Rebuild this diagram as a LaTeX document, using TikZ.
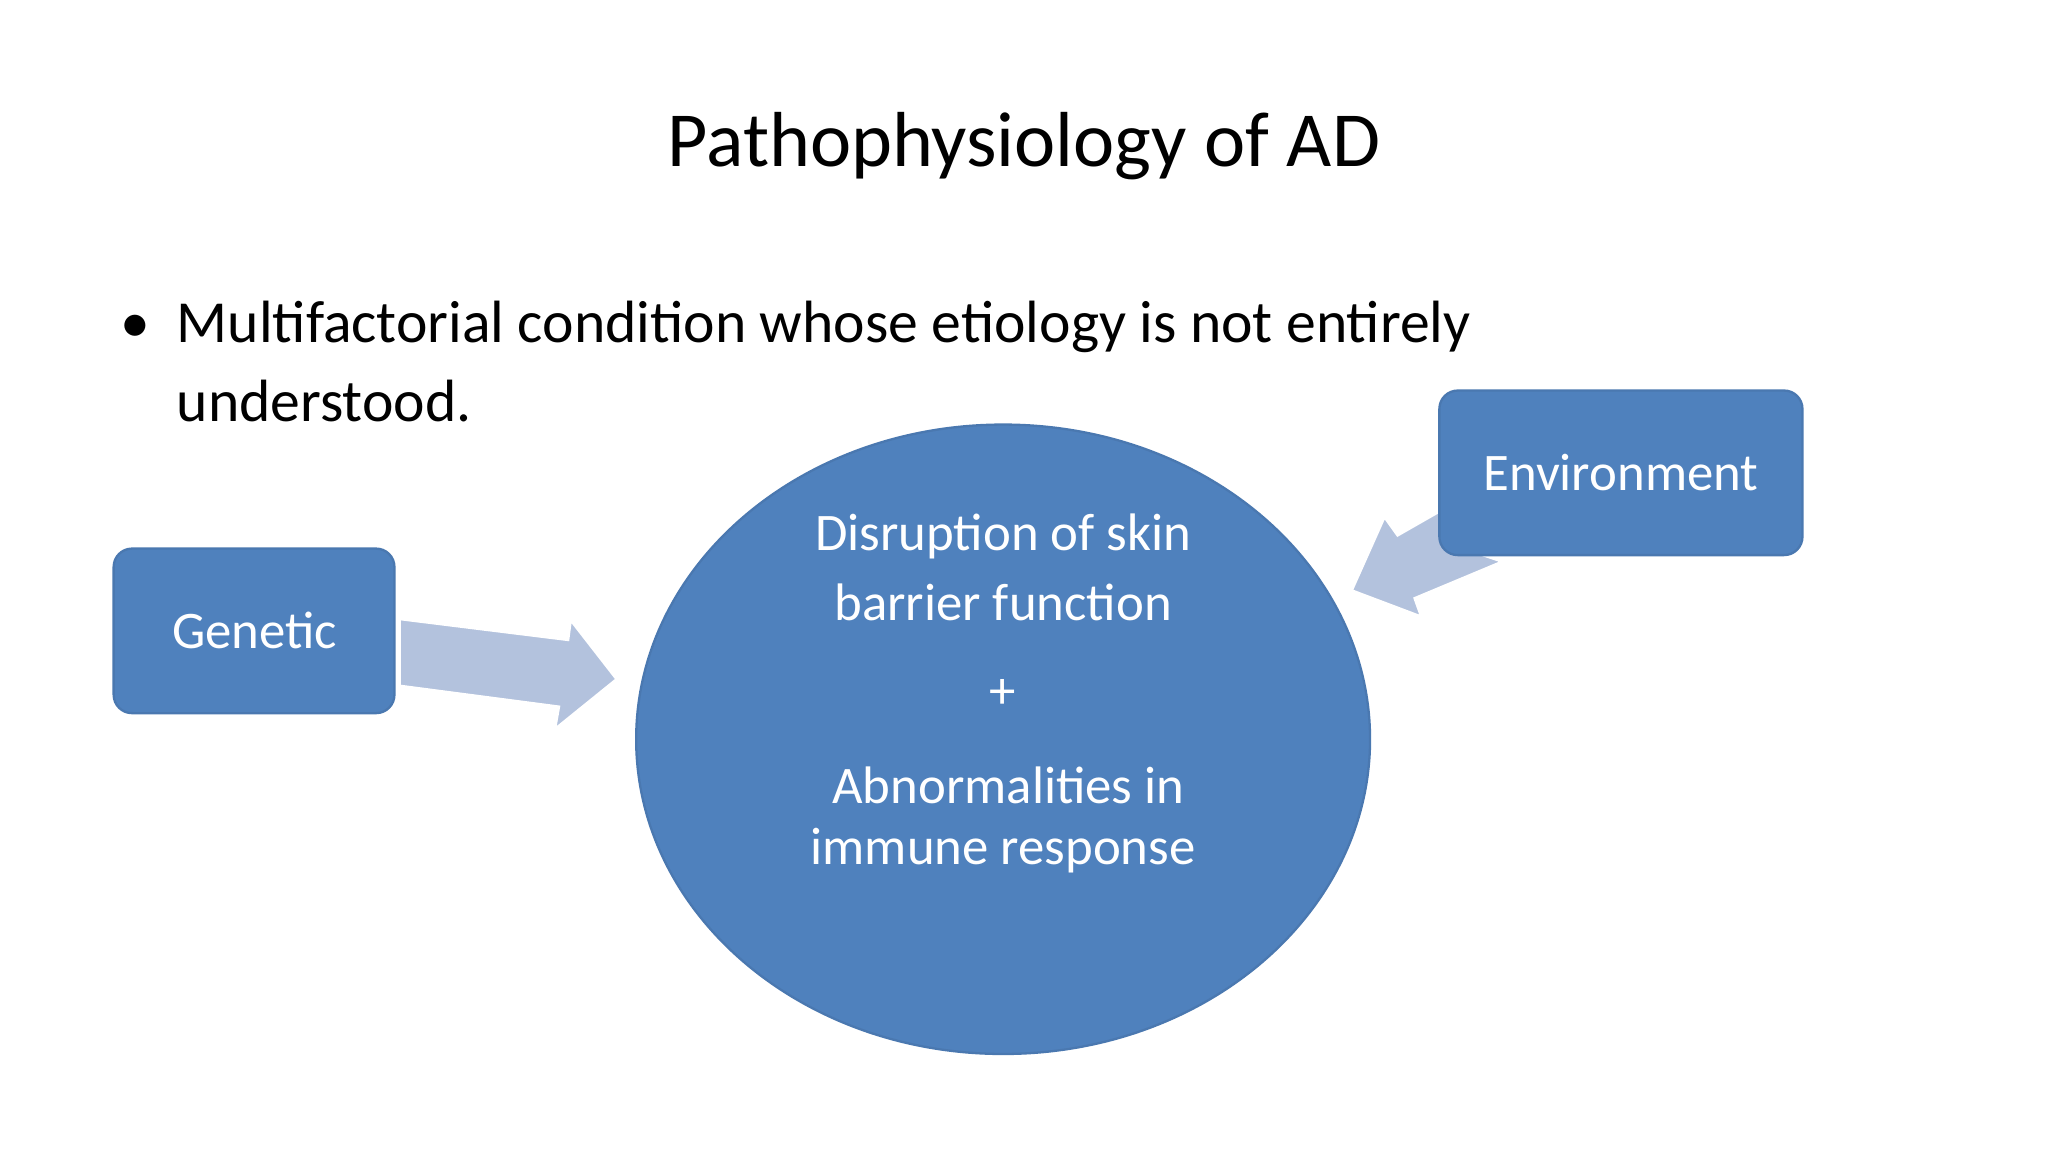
\documentclass[tikz,border=0pt]{standalone}
\usepackage{fontspec}
\setmainfont{Carlito}
\usetikzlibrary{shapes.geometric}
\definecolor{boxblue}{HTML}{4F81BD}
\definecolor{boxedge}{HTML}{4A78B0}
\definecolor{arrowfill}{HTML}{B3C2DD}
\begin{document}
\begin{tikzpicture}[x=0.02cm,y=-0.02cm,
  box/.style={draw=boxedge,fill=boxblue,rounded corners=8pt,line width=1pt,text=white,font=\fontsize{23}{27}\selectfont},
  bigarrow/.style={fill=arrowfill,draw=white,line width=1pt}]
\useasboundingbox (0,0) rectangle (1568,882);
\fill[white] (0,0) rectangle (1568,882);
\node (title) at (784,112) {\fontsize{34}{40}\selectfont Pathophysiology of AD};
\node[anchor=base west,font=\fontsize{26}{31}\selectfont] (bul) at (86,262) {•};
\node[anchor=base west,font=\fontsize{26}{31}\selectfont,inner sep=0] (l1) at (135,262) {Multifactorial condition whose etiology is not entirely};
\node[anchor=base west,font=\fontsize{26}{31}\selectfont,inner sep=0] (l2) at (135,323) {understood.};
\node[draw=boxedge,fill=boxblue,ellipse,minimum width=11.24cm,minimum height=9.64cm,line width=1pt] (ell) at (768,566) {};
\begin{scope}[font=\fontsize{23}{27}\selectfont,text=white]
\node (t1) at (768,411) {Disruption of skin};
\node (t2) at (768,461) {barrier function};
\node (t3) at (768,531) {+};
\node (t4) at (772,601) {Abnormalities in};
\node (t5) at (768,651) {immune response};
\end{scope}
\path[bigarrow] (306,474) -- (435,490) -- (437,475) -- (472,520) -- (425,558) -- (428,541) -- (306,525) -- cycle;
\path[bigarrow] (1105,390) -- (1070,410) -- (1060,396) -- (1035,452) -- (1088,472) -- (1083,458) -- (1150,430) -- (1120,420) -- cycle;
\path[box] (1102,299) rectangle (1380,425);
\node[text=white,font=\fontsize{23}{27}\selectfont] (env) at (1241,362) {Environment};
\path[box] (87,420) rectangle (302,546);
\node[text=white,font=\fontsize{23}{27}\selectfont] (gen) at (195,483) {Genetic};
\end{tikzpicture}
\end{document}
